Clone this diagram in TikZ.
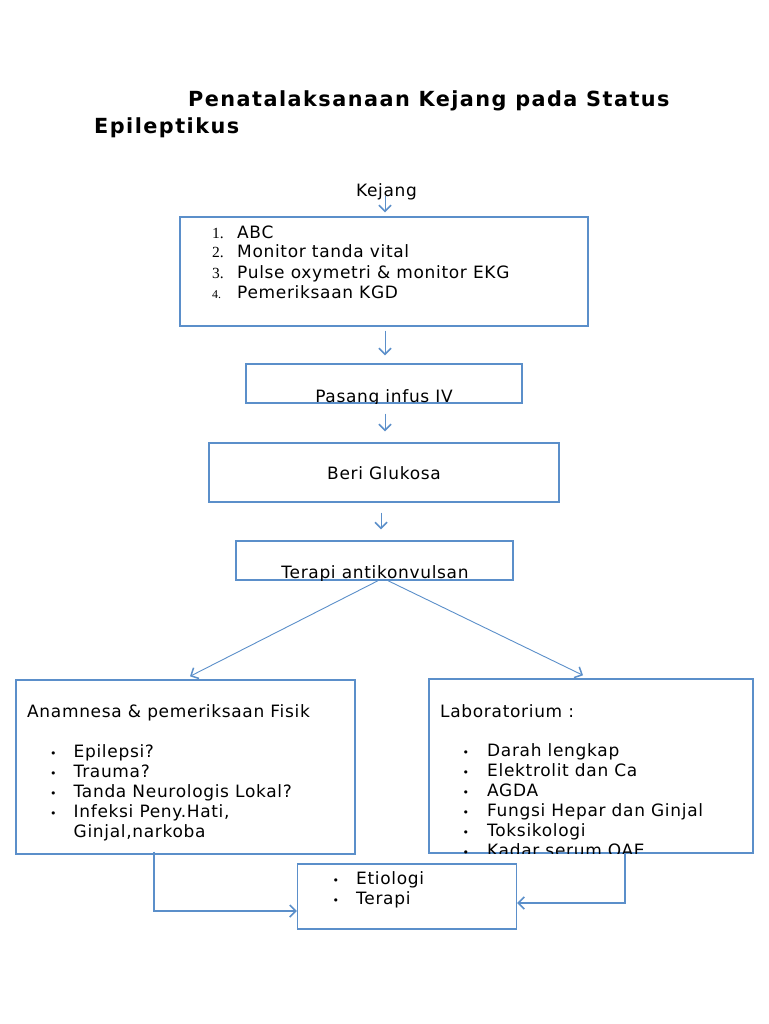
\documentclass[tikz,border=0pt]{standalone}
\usepackage{fontspec}
\setmainfont{DejaVu Sans}[LetterSpace=4]
\newfontfamily\ttlfont{DejaVu Sans}[LetterSpace=7]
\newfontfamily\numfont{Liberation Serif}
\usetikzlibrary{arrows.meta}
\definecolor{bl}{HTML}{5B8FCA}
\begin{document}
\begin{tikzpicture}[x=1pt,y=-1pt,
  box/.style={draw=bl, line width=1.4pt, inner sep=0pt},
  conn/.style={draw=bl, line width=0.9pt, -{Straight Barb[length=6pt,width=12pt,line width=1.5pt]}},
  txt/.style={font=\fontsize{17}{20}\selectfont, inner sep=0pt, anchor=base west},
  ctxt/.style={txt, anchor=base},
  ttl/.style={font=\ttlfont\fontsize{20.8}{27}\selectfont\bfseries, inner sep=0pt, anchor=base west},
  num/.style={font=\numfont\fontsize{15.5}{20}\selectfont, inner sep=0pt, anchor=base west},
  bul/.style={font=\fontsize{11}{20}\selectfont, inner sep=0pt, anchor=base west}]
\useasboundingbox[fill=white] (0,0) rectangle (768,1024);

% title
\node[ttl] (title1) at (188,107) {Penatalaksanaan Kejang pada Status};
\node[ttl] (title2) at (94,134) {Epileptikus};

% boxes
\node[box, minimum width=408, minimum height=109] (b1) at (384,271.5) {};
\node[box, minimum width=276, minimum height=39] (b2) at (384,383.5) {};
\node[box, minimum width=350, minimum height=59] (b3) at (384,472.5) {};
\node[box, minimum width=277, minimum height=39] (b4) at (374.5,560.5) {};
\node[box, minimum width=339, minimum height=174] (b5) at (185.5,767) {};
\node[box, minimum width=324, minimum height=174] (b6) at (591,766) {};
\node[box, minimum width=219, minimum height=65] (b7) at (407,896.5) {};

% Kejang
\node[ctxt] (kej) at (386.5,196.5) {Kejang};

% box 1 list
\node[num] (n1) at (212,238) {1.};
\node[num] (n2) at (212,258) {2.};
\node[num] (n3) at (212,278) {3.};
\node[num, font=\numfont\fontsize{12}{20}\selectfont] (n4) at (212,298) {4.};
\node[txt] (l1) at (237,238) {ABC};
\node[txt] (l2) at (237,258) {Monitor tanda vital};
\node[txt] (l3) at (237,278) {Pulse oxymetri \& monitor EKG};
\node[txt] (l4) at (237,298) {Pemeriksaan KGD};

% clipped single-line boxes
\begin{scope}
\clip ([yshift=0.7pt]b2.south west) rectangle (b2.north east);
\node[ctxt] (t2) at (384,402.5) {Pasang infus IV};
\end{scope}
\node[ctxt] (t3) at (384,479.5) {Beri Glukosa};
\begin{scope}
\clip ([yshift=0.7pt]b4.south west) rectangle (b4.north east);
\node[ctxt] (t4) at (375,578.5) {Terapi antikonvulsan};
\end{scope}

% box 5
\node[txt] (a0) at (27,717.5) {Anamnesa \& pemeriksaan Fisik};
\foreach \y/\t [count=\i] in {757/{Epilepsi?},777/{Trauma?},797/{Tanda Neurologis Lokal?},817/{Infeksi Peny.Hati,}}{
  \node[bul] (ab\i) at (50,\y) {•};
  \node[txt] (a\i) at (73.5,\y) {\t};
}
\node[txt] (a5) at (73.5,837) {Ginjal,narkoba};

% box 6
\begin{scope}
\clip ([yshift=0.7pt]b6.south west) rectangle (b6.north east);
\node[txt] (c0) at (440,717) {Laboratorium :};
\foreach \y/\t [count=\i] in {756/{Darah lengkap},776/{Elektrolit dan Ca},796/{AGDA},816/{Fungsi Hepar dan Ginjal},836/{Toksikologi},856/{Kadar serum OAE}}{
  \node[bul] (cb\i) at (462.5,\y) {•};
  \node[txt] (c\i) at (487,\y) {\t};
}
\end{scope}

% box 7
\node[bul] (eb1) at (332.5,884) {•};
\node[txt] (e1) at (356,884) {Etiologi};
\node[bul] (eb2) at (332.5,904) {•};
\node[txt] (e2) at (356,904) {Terapi};

% connectors
\draw[conn, shorten >=4pt] ([xshift=-1.5pt]kej.base) -- ([xshift=-1.5pt]kej.base |- b1.north);
\draw[conn, shorten <=4pt, shorten >=8pt] ([xshift=1pt]b1.south) -- ([xshift=1pt]b2.north);
\draw[conn, shorten <=10pt, shorten >=11pt] ([xshift=1pt]b2.south) -- ([xshift=1pt]b3.north);
\draw[conn, shorten <=10pt, shorten >=11pt] ([xshift=-3pt]b3.south) -- ([xshift=-3pt]b3.south |- b4.north);
\draw[conn] ([xshift=3.5pt]b4.south) -- ([xshift=4.5pt,yshift=3pt]b5.north);
\draw[conn] ([xshift=13.5pt]b4.south) -- ([xshift=-8pt,yshift=3pt]b6.north);
\draw[conn, line width=1.2pt] ([xshift=-31.5pt,yshift=3pt]b5.south) |- ([yshift=-14.5pt]b7.west);
\draw[conn, line width=1.2pt] ([xshift=34pt,yshift=1pt]b6.south) |- ([yshift=-6.5pt]b7.east);
\end{tikzpicture}
\end{document}
